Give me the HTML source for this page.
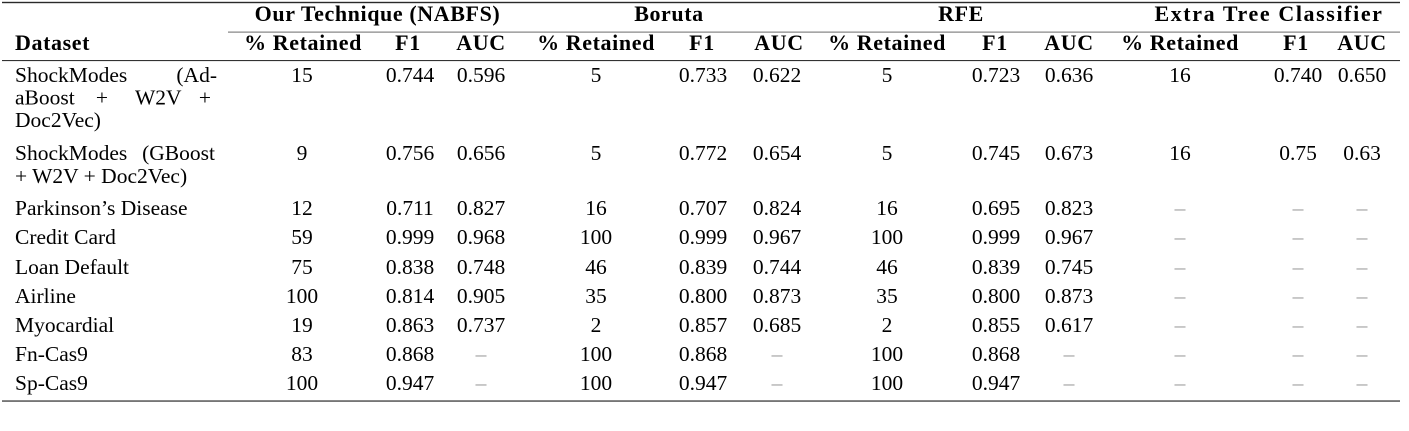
<!DOCTYPE html>
<html>
<head>
<meta charset="utf-8">
<style>
  html, body { margin: 0; padding: 0; background: #ffffff; }
  body { width: 1409px; height: 431px; overflow: hidden; }
  svg { display: block; }
  .r { font-family: "Liberation Serif", "DejaVu Serif", serif; font-size: 21.5px; fill: #000; }
  .b { font-family: "Liberation Serif", "DejaVu Serif", serif; font-size: 22px; font-weight: 700; fill: #000; letter-spacing: 0.6px; }
  .d { font-family: "Liberation Serif", "DejaVu Serif", serif; font-size: 21.5px; fill: #9a9a9a; }
</style>
</head>
<body>
<svg width="1409" height="431" viewBox="0 0 1409 431" xmlns="http://www.w3.org/2000/svg">
  <!-- rules -->
  <rect x="2" y="1.8" width="1398" height="1.4" fill="#2a2a2a"/>
  <rect x="228" y="31.6" width="1172" height="1" fill="#6a6a6a"/>
  <rect x="2" y="60" width="1398" height="1.1" fill="#333"/>
  <rect x="2" y="400.3" width="1398" height="1.5" fill="#555"/>

  <!-- group headers -->
  <g class="b" text-anchor="middle">
    <text x="377.5" y="21">Our Technique (NABFS)</text>
    <text x="669" y="21">Boruta</text>
    <text x="961" y="21">RFE</text>
    <text x="1269" y="21" style="letter-spacing:1.6px">Extra Tree Classifier</text>
  </g>

  <!-- sub headers -->
  <text class="b" x="15" y="50">Dataset</text>
  <g class="b" text-anchor="middle">
    <text x="303" y="50">% Retained</text>
    <text x="408" y="50">F1</text>
    <text x="481" y="50">AUC</text>

    <text x="596" y="50">% Retained</text>
    <text x="702" y="50">F1</text>
    <text x="779" y="50">AUC</text>

    <text x="887" y="50">% Retained</text>
    <text x="995" y="50">F1</text>
    <text x="1069" y="50">AUC</text>

    <text x="1180" y="50">% Retained</text>
    <text x="1296" y="50">F1</text>
    <text x="1362" y="50">AUC</text>
  </g>

  <!-- Dataset column -->
  <text class="r" x="15" y="82">ShockModes</text>
  <text class="r" x="217" y="82" text-anchor="end">(Ad-</text>
  <text class="r" x="15" y="104.5">aBoost</text>
  <text class="r" x="102" y="104.5" text-anchor="middle">+</text>
  <text class="r" x="135" y="104.5">W2V</text>
  <text class="r" x="205" y="104.5" text-anchor="middle">+</text>
  <text class="r" x="15" y="127">Doc2Vec)</text>

  <text class="r" x="15" y="160">ShockModes</text>
  <text class="r" x="215" y="160" text-anchor="end">(GBoost</text>
  <text class="r" x="15" y="183">+ W2V + Doc2Vec)</text>

  <text class="r" x="15" y="215">Parkinson’s Disease</text>
  <text class="r" x="15" y="244">Credit Card</text>
  <text class="r" x="15" y="274">Loan Default</text>
  <text class="r" x="15" y="303">Airline</text>
  <text class="r" x="15" y="332">Myocardial</text>
  <text class="r" x="15" y="361">Fn-Cas9</text>
  <text class="r" x="15" y="390">Sp-Cas9</text>

  <g class="r" text-anchor="middle">
    <text x="302" y="82">15</text><text x="410" y="82">0.744</text><text x="481" y="82">0.596</text>
    <text x="596" y="82">5</text><text x="703" y="82">0.733</text><text x="777" y="82">0.622</text>
    <text x="887" y="82">5</text><text x="996" y="82">0.723</text><text x="1069" y="82">0.636</text>
    <text x="1180" y="82">16</text><text x="1298" y="82">0.740</text><text x="1362" y="82">0.650</text>

    <text x="302" y="160">9</text><text x="410" y="160">0.756</text><text x="481" y="160">0.656</text>
    <text x="596" y="160">5</text><text x="703" y="160">0.772</text><text x="777" y="160">0.654</text>
    <text x="887" y="160">5</text><text x="996" y="160">0.745</text><text x="1069" y="160">0.673</text>
    <text x="1180" y="160">16</text><text x="1298" y="160">0.75</text><text x="1362" y="160">0.63</text>

    <text x="302" y="215">12</text><text x="410" y="215">0.711</text><text x="481" y="215">0.827</text>
    <text x="596" y="215">16</text><text x="703" y="215">0.707</text><text x="777" y="215">0.824</text>
    <text x="887" y="215">16</text><text x="996" y="215">0.695</text><text x="1069" y="215">0.823</text>

    <text x="302" y="244">59</text><text x="410" y="244">0.999</text><text x="481" y="244">0.968</text>
    <text x="596" y="244">100</text><text x="703" y="244">0.999</text><text x="777" y="244">0.967</text>
    <text x="887" y="244">100</text><text x="996" y="244">0.999</text><text x="1069" y="244">0.967</text>

    <text x="302" y="274">75</text><text x="410" y="274">0.838</text><text x="481" y="274">0.748</text>
    <text x="596" y="274">46</text><text x="703" y="274">0.839</text><text x="777" y="274">0.744</text>
    <text x="887" y="274">46</text><text x="996" y="274">0.839</text><text x="1069" y="274">0.745</text>

    <text x="302" y="303">100</text><text x="410" y="303">0.814</text><text x="481" y="303">0.905</text>
    <text x="596" y="303">35</text><text x="703" y="303">0.800</text><text x="777" y="303">0.873</text>
    <text x="887" y="303">35</text><text x="996" y="303">0.800</text><text x="1069" y="303">0.873</text>

    <text x="302" y="332">19</text><text x="410" y="332">0.863</text><text x="481" y="332">0.737</text>
    <text x="596" y="332">2</text><text x="703" y="332">0.857</text><text x="777" y="332">0.685</text>
    <text x="887" y="332">2</text><text x="996" y="332">0.855</text><text x="1069" y="332">0.617</text>

    <text x="302" y="361">83</text><text x="410" y="361">0.868</text>
    <text x="596" y="361">100</text><text x="703" y="361">0.868</text>
    <text x="887" y="361">100</text><text x="996" y="361">0.868</text>

    <text x="302" y="390">100</text><text x="410" y="390">0.947</text>
    <text x="596" y="390">100</text><text x="703" y="390">0.947</text>
    <text x="887" y="390">100</text><text x="996" y="390">0.947</text>
  </g>

  <!-- dashes -->
  <g class="d" text-anchor="middle">
    <text x="1180" y="215">–</text><text x="1298" y="215">–</text><text x="1362" y="215">–</text>
    <text x="1180" y="244">–</text><text x="1298" y="244">–</text><text x="1362" y="244">–</text>
    <text x="1180" y="274">–</text><text x="1298" y="274">–</text><text x="1362" y="274">–</text>
    <text x="1180" y="303">–</text><text x="1298" y="303">–</text><text x="1362" y="303">–</text>
    <text x="1180" y="332">–</text><text x="1298" y="332">–</text><text x="1362" y="332">–</text>

    <text x="481" y="361">–</text><text x="777" y="361">–</text><text x="1069" y="361">–</text>
    <text x="1180" y="361">–</text><text x="1298" y="361">–</text><text x="1362" y="361">–</text>

    <text x="481" y="390">–</text><text x="777" y="390">–</text><text x="1069" y="390">–</text>
    <text x="1180" y="390">–</text><text x="1298" y="390">–</text><text x="1362" y="390">–</text>
  </g>
</svg>
</body>
</html>
